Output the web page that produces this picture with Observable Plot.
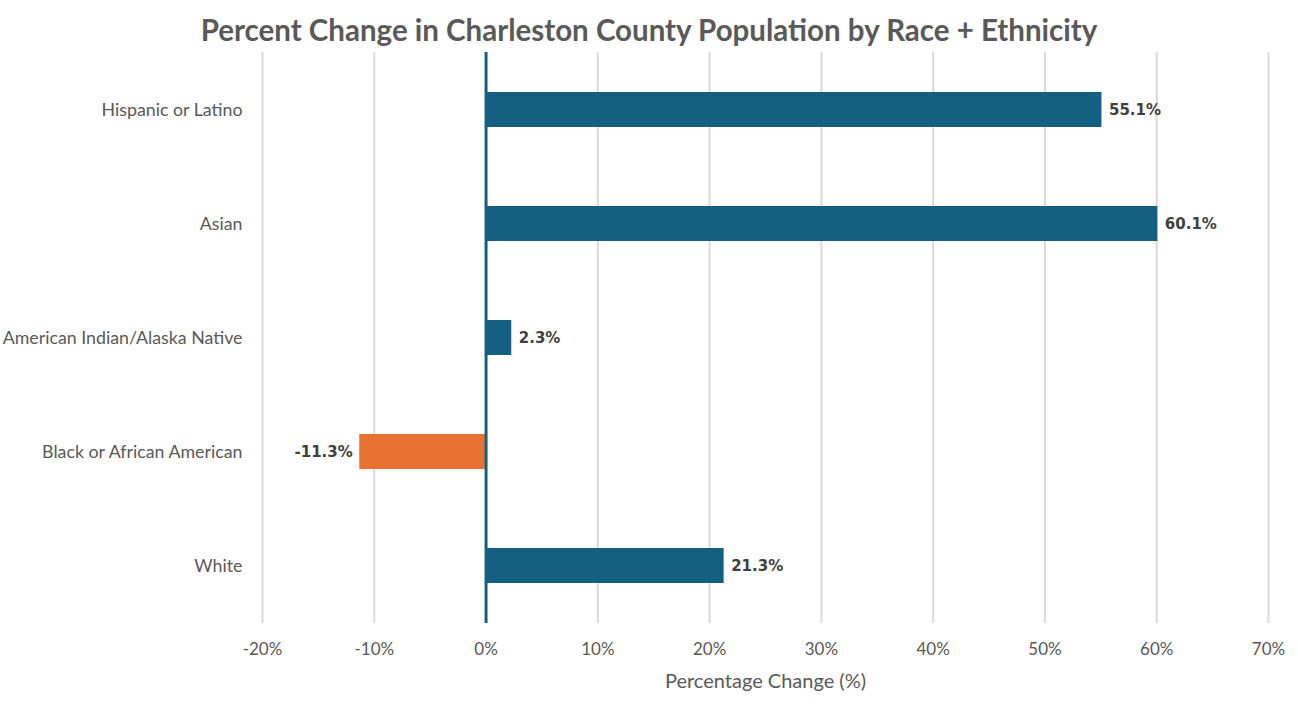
<!DOCTYPE html>
<html>
<head>
<meta charset="utf-8">
<script src="https://cdn.jsdelivr.net/npm/d3@7"></script>
<script src="https://cdn.jsdelivr.net/npm/@observablehq/plot@0.6"></script>
<style>
  body { margin: 0; background: #fff; }
  #title { height: 52px; line-height: 60px; text-align: center; font-family: Lato, "Open Sans", sans-serif; font-weight: 700; font-size: 29.5px; color: #595959; white-space: nowrap; }
  #chart svg { display: block; }
</style>
</head>
<body>
<div id="title">Percent Change in Charleston County Population by Race + Ethnicity</div>
<div id="chart"></div>
<script>
const categories = ["Hispanic or Latino", "Asian", "American Indian/Alaska Native", "Black or African American", "White"];
const values = [55.1, 60.1, 2.3, -11.3, 21.3];
const xTicks = [-20, -10, 0, 10, 20, 30, 40, 50, 60, 70];

const data = categories.map((c, i) => ({category: c, value: values[i]}));
const pos = data.filter(d => d.value >= 0);
const neg = data.filter(d => d.value < 0);

const labelStyle = {
  x: "value", y: "category",
  text: d => d.value.toFixed(1) + "%",
  lineAnchor: "middle",
  fontFamily: "'DejaVu Sans', Verdana, sans-serif",
  fontWeight: "bold", fontSize: 15, fill: "#404040"
};

const chart = Plot.plot({
  width: 1298,
  height: 659,
  marginTop: 0,
  marginLeft: 262,
  marginRight: 30,
  marginBottom: 88,
  style: {fontFamily: "Lato, 'Open Sans', sans-serif", fontSize: "17px", color: "#595959", background: "#fff"},
  x: {domain: [-20, 70], ticks: xTicks, tickFormat: d => d + "%", grid: false, label: null},
  y: {domain: categories, paddingInner: 0.69, paddingOuter: 0.345, label: null},
  marks: [
    Plot.ruleX(xTicks.filter(d => d !== 0), {stroke: "#d9d9d9", strokeWidth: 2}),
    Plot.barX(data, {x: "value", y: "category", fill: d => d.value < 0 ? "#E97132" : "#156082"}),
    Plot.ruleX([0], {stroke: "#156082", strokeWidth: 3}),
    Plot.text(pos, {...labelStyle, textAnchor: "start", dx: 7}),
    Plot.text(neg, {...labelStyle, textAnchor: "end", dx: -7}),
    Plot.axisY({tickSize: 0, tickPadding: 20, fontSize: 17.8, fill: "#595959"}),
    Plot.axisX({ticks: xTicks, tickFormat: d => d + "%", tickSize: 0, tickPadding: 19, fontSize: 17, fill: "#595959", label: null}),
    Plot.text(["Percentage Change (%)"], {frameAnchor: "bottom", dy: 64, fontSize: 20, fill: "#595959"})
  ]
});
document.getElementById("chart").appendChild(chart);
</script>
</body>
</html>
